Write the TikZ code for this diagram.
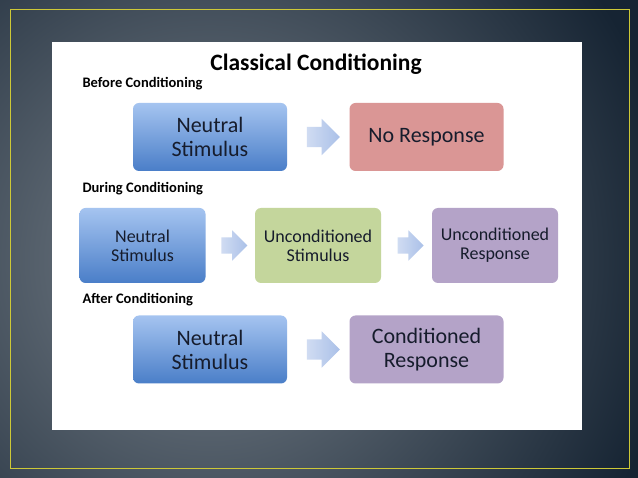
\documentclass[tikz,border=0pt]{standalone}
\usepackage{fontspec}
\setmainfont{Carlito}
\usepackage{tikz}
\usetikzlibrary{shapes.arrows}
\definecolor{bgdark}{RGB}{22,36,51}
\definecolor{bglight}{RGB}{122,131,140}
\definecolor{frameyellow}{RGB}{205,200,55}
\definecolor{bluetop}{RGB}{165,196,240}
\definecolor{bluebot}{RGB}{74,126,200}
\definecolor{nored}{RGB}{218,150,149}
\definecolor{usgreen}{RGB}{196,214,156}
\definecolor{urpurple}{RGB}{180,163,200}
\definecolor{arrowleft}{RGB}{208,220,242}
\definecolor{arrowright}{RGB}{170,192,232}
\definecolor{boxtext}{RGB}{22,28,44}
\tikzset{
    box/.style={rounded corners=6pt, text=boxtext, align=center, inner sep=0pt},
    bigbox/.style={box, minimum width=154pt, minimum height=68pt, font=\fontsize{22}{24}\selectfont},
    smallbox/.style={box, minimum width=126pt, minimum height=75pt, font=\fontsize{18}{19}\selectfont},
    bluebox/.style={top color=bluetop, bottom color=bluebot},
    bigarrow/.style={single arrow, left color=arrowleft, right color=arrowright, minimum height=33pt, inner sep=0pt, inner ysep=10pt, single arrow head extend=8pt},
    smallarrow/.style={bigarrow, minimum height=26pt, inner ysep=8pt, single arrow head extend=7pt},
    section/.style={anchor=west, font=\fontsize{14.5}{16}\selectfont\bfseries}
}

\begin{document}
\begin{tikzpicture}[x=1pt,y=-1pt]
        \useasboundingbox (0,0) rectangle (638,478);
        \begin{scope}
        \clip (0,0) rectangle (638,478);
        \fill[bgdark] (0,0) rectangle (638,478);
        \shade[inner color=bglight, outer color=bgdark] (210,260) circle (470);
        \end{scope}
        \draw[frameyellow, line width=0.9pt] (10.5,9) rectangle (629,468);
        \fill[white] (52,42) rectangle (582,430);
        \node (T) at (316,64) {\fontsize{23.5}{26}\selectfont\bfseries Classical Conditioning};
        \node[section] (S1) at (79,84) {Before Conditioning};
        \node[section] (S2) at (79,189) {During Conditioning};
        \node[section] (S3) at (79,300) {After Conditioning};
        \node[bigbox, bluebox] (NS1) at (210,137) {Neutral\\Stimulus};
        \node[bigbox, fill=nored] (NR) at (426.5,137) {No Response};
        \node[smallbox, bluebox] (NS2) at (142.5,245.5) {Neutral\\Stimulus};
        \node[smallbox, fill=usgreen] (US) at (318,245.5) {Unconditioned\\Stimulus};
        \node[smallbox, fill=urpurple] (UR) at (495,245.5) {Unconditioned\\Response};
        \node[bigbox, bluebox] (NS3) at (210,349.5) {Neutral\\Stimulus};
        \node[bigbox, fill=urpurple] (CR) at (426.5,349.5) {Conditioned\\Response};
        \path (NS1) -- node[bigarrow] {} (NR);
        \path (NS2) -- node[smallarrow] {} (US);
        \path (US) -- node[smallarrow] {} (UR);
        \path (NS3) -- node[bigarrow] {} (CR);
    \end{tikzpicture}
\end{document}
